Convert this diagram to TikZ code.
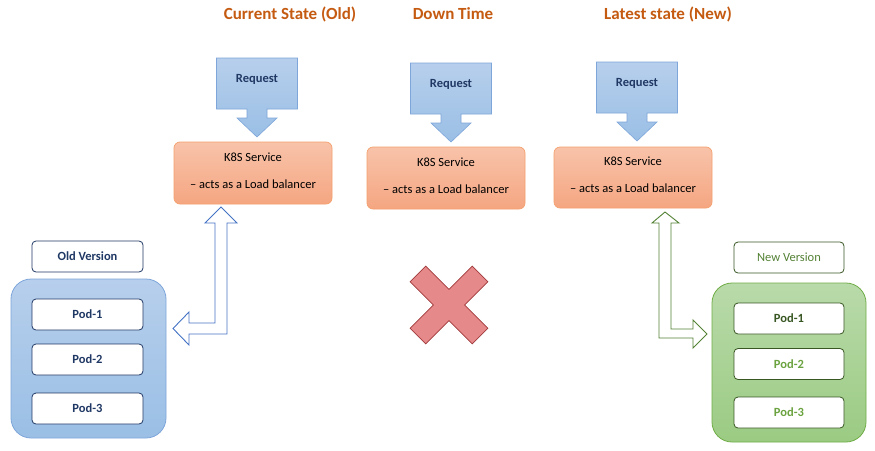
\documentclass[tikz,border=0pt]{standalone}
\usepackage{fontspec}
\setmainfont{Carlito}
\begin{document}
\begin{tikzpicture}[x=1pt,y=-1pt,
  title/.style={font=\fontsize{17}{19}\selectfont\bfseries,text=ttl},
  req/.style={draw=reqb,line width=0.6pt,top color=reqt,bottom color=reqm},
  svc/.style={draw=svcb,line width=0.7pt,rounded corners=6pt,top color=svct,bottom color=svcm},
  lbl/.style={font=\fontsize{12.5}{14}\selectfont},
  bl/.style={font=\fontsize{12.5}{14}\selectfont\bfseries},
  pod/.style={draw=#1,line width=0.8pt,fill=white,rounded corners=4pt,minimum width=111pt,minimum height=31pt},
]
\definecolor{ttl}{HTML}{C55A11}
\definecolor{reqb}{HTML}{7EA6DA}
\definecolor{reqt}{HTML}{B7CFEC}
\definecolor{reqm}{HTML}{9ABFE5}
\definecolor{svcb}{HTML}{F4A06E}
\definecolor{svct}{HTML}{F8C3AA}
\definecolor{svcm}{HTML}{F5A681}
\definecolor{dblue}{HTML}{203864}
\definecolor{ablue}{HTML}{4472C4}
\definecolor{gbord}{HTML}{70AD47}
\definecolor{gtop}{HTML}{B9DAAA}
\definecolor{gbot}{HTML}{9BCB83}
\definecolor{dgreen}{HTML}{385723}
\definecolor{mgreen}{HTML}{548235}
\definecolor{lgreen}{HTML}{6AA33F}
\definecolor{xfill}{HTML}{E6898B}
\definecolor{xbord}{HTML}{A0393B}
\useasboundingbox (0,0) rectangle (875,450);
\fill[white] (0,0) rectangle (875,450);

\node[title] (t1) at (290,14) {Current State (Old)};
\node[title] (t2) at (453,14) {Down Time};
\node[title] (t3) at (668,14) {Latest state (New)};

\foreach \cx/\ty/\by/\tip in {257/58/109/137, 451/63/114/142, 637/62/113/141}{
  \draw[req] (\cx-40.5,\ty) -- (\cx+40.5,\ty) -- (\cx+40.5,\by) -- (\cx+10,\by) -- (\cx+10,\by+9)
    -- (\cx+20,\by+9) -- (\cx,\tip) -- (\cx-20,\by+9) -- (\cx-10,\by+9) -- (\cx-10,\by)
    -- (\cx-40.5,\by) -- cycle;
}
\node[bl,text=dblue] (r1) at (257,79) {Request};
\node[bl,text=dblue] (r2) at (451,84) {Request};
\node[bl,text=dblue] (r3) at (637,83) {Request};

\draw[svc] (174,142) rectangle (332,204);
\draw[svc] (367,147) rectangle (525,209);
\draw[svc] (554,147) rectangle (712,208);
\node[lbl] (s1a) at (253,157) {K8S Service};
\node[lbl] (s1b) at (253,184) {-- acts as a Load balancer};
\node[lbl] (s2a) at (446,162) {K8S Service};
\node[lbl] (s2b) at (446,189) {-- acts as a Load balancer};
\node[lbl] (s3a) at (633,161) {K8S Service};
\node[lbl] (s3b) at (633,188) {-- acts as a Load balancer};

\node[pod=dblue,bl,text=dblue] (ov) at (87.5,256.5) {Old Version};
\draw[draw=reqb,line width=0.8pt,rounded corners=20pt,top color=reqt,bottom color=reqm] (11,279) rectangle (166,438);
\foreach \n/\y in {1/314.5,2/359.5,3/408.5}{
  \node[pod=dblue,bl,text=dblue] (op\n) at (87.5,\y) {Pod-\n};
}
\draw[ablue,line width=0.9pt,fill=white,line join=miter]
 (221,207) -- (237,223) -- (227,223) -- (227,334) -- (189,334) -- (189,345) -- (173,328.5)
 -- (189,312) -- (189,323) -- (215,323) -- (215,223) -- (205,223) -- cycle;

\begin{scope}[shift={(449,305)},rotate=45]
\draw[xbord,line width=0.7pt,fill=xfill]
 (11,44) -- (11,11) -- (44,11) -- (44,-11) -- (11,-11) -- (11,-44) -- (-11,-44) -- (-11,-11)
 -- (-44,-11) -- (-44,11) -- (-11,11) -- (-11,44) -- cycle;
\end{scope}

\node[pod=dgreen,minimum width=110pt,lbl,text=mgreen] (nv) at (789,257.5) {New Version};
\draw[draw=gbord,line width=0.8pt,rounded corners=20pt,top color=gtop,bottom color=gbot] (712,283) rectangle (866,442);
\node[pod=dgreen,minimum width=110pt,bl,text=dgreen] (np1) at (789,318.5) {Pod-1};
\node[pod=dgreen,minimum width=110pt,bl,text=lgreen] (np2) at (789,364) {Pod-2};
\node[pod=dgreen,minimum width=110pt,bl,text=lgreen] (np3) at (789,412.5) {Pod-3};
\draw[mgreen,line width=0.9pt,fill=white,line join=miter]
 (665,212) -- (679,223) -- (671,223) -- (671,329) -- (693,329) -- (693,320) -- (707,334)
 -- (693,348) -- (693,338) -- (659,338) -- (659,223) -- (652,223) -- cycle;
\end{tikzpicture}
\end{document}
